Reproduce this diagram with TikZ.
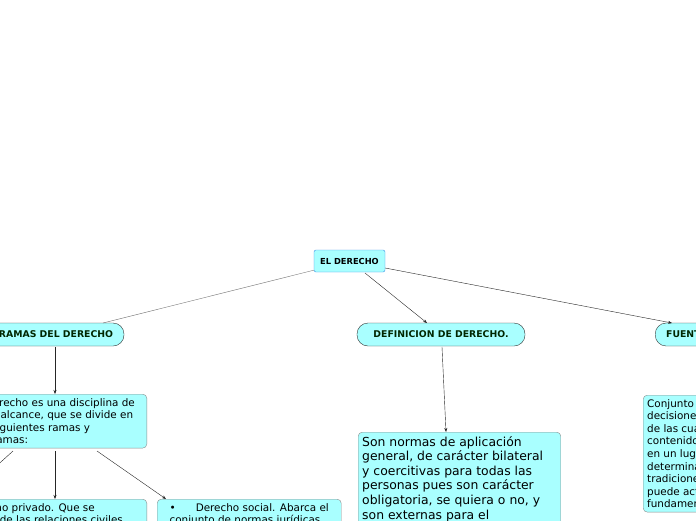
\documentclass[tikz,border=0pt]{standalone}
\usepackage{fontspec}
\setmainfont{DejaVu Sans}
\usetikzlibrary{arrows.meta}
\definecolor{cy}{HTML}{A9FFFF}
\definecolor{bl}{HTML}{3A8EE6}
\tikzset{
 x=1pt,y=-1pt,
 topic/.style={draw=black!80,fill=cy,rounded corners=11pt,minimum height=23pt,font=\bfseries\fontsize{9.3}{11}\selectfont,text=black!85!green},
 txt/.style={draw=black!45,fill=cy,rounded corners=4pt,align=left,inner sep=4pt,font=\fontsize{10.4}{12.6}\selectfont},
 arr/.style={-{Stealth[length=4pt,width=3pt]},black!85},
}
\begin{document}
\begin{tikzpicture}
\useasboundingbox (0,0) rectangle (696,520);
\node[draw=bl,fill=cy,rounded corners=2pt,font=\bfseries\fontsize{8.3}{9}\selectfont,minimum width=71pt,minimum height=22pt] (root) at (349.5,261) {EL DERECHO};
\node[topic,minimum width=160pt] (ramas) at (44,334.5) {\hspace*{24pt}RAMAS DEL DERECHO};
\node[topic,minimum width=168pt] (def) at (441,334.5) {DEFINICION DE DERECHO.};
\node[topic,minimum width=160pt,anchor=west] (fue) at (655,334.5) {\hspace*{-14pt}FUENTES DEL DERECHO};
\node[txt,anchor=north east,inner xsep=12pt] (lbox) at (147,394) {El derecho es una disciplina de\\gran alcance, que se divide en\\las siguientes ramas y\hspace*{50pt}\\subramas:};
\node[txt,anchor=north west,minimum width=183pt,font=\fontsize{12.4}{14.6}\selectfont] (dbox) at (358,432) {Son normas de aplicación\hspace*{35pt}\\general, de carácter bilateral\\y coercitivas para todas las\\personas pues son carácter\\obligatoria, se quiera o no, y\\son externas para el\\individuo.};
\node[txt,anchor=north west] (fbox) at (643,395) {Conjunto de actos o\\decisiones a partir\\de las cuales surge el\\contenido de las normas\\en un lugar y tiempo\\determinado, según las\\tradiciones de cada país,\\puede actuar como\\fundamento};
\node[txt,anchor=north east,inner xsep=12pt] (priv) at (147,499) {Derecho privado. Que se\hspace*{40pt}\\ocupa de las relaciones civiles};
\node[txt,anchor=north west,minimum width=184pt] (soc) at (157,499) {•\hspace{20pt}Derecho social. Abarca el\\conjunto de normas jurídicas};
\coordinate (pub) at (-40,499);
\draw[black!55] (root.south west) ++(0,-2) -- (103,323);
\draw[arr] (365,273) -- (427,323);
\draw[arr] (root.east) ++(0,7) -- (672,323);
\draw[arr] (55,347) -- (55,394);
\draw[arr] (442,347) -- (446,432);
\draw[arr] (13,451) -- (pub);
\draw[arr] (55,451) -- (55,499);
\draw[arr] (97,451) -- (166,499);
\end{tikzpicture}
\end{document}
